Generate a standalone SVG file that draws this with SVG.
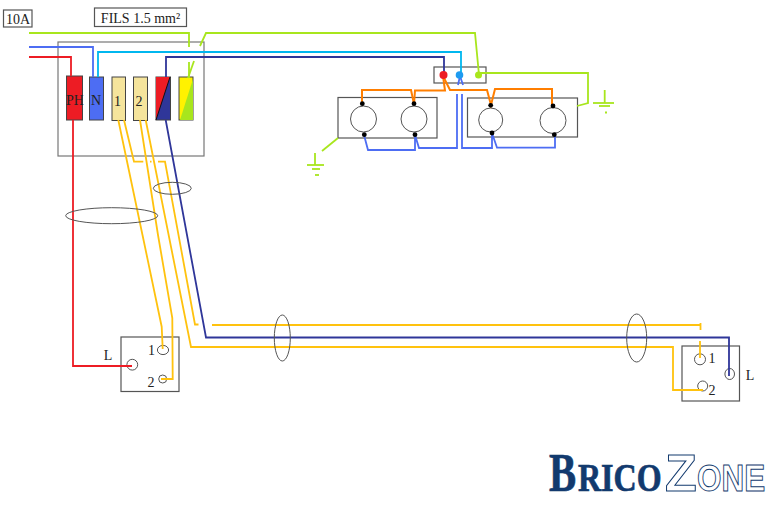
<svg xmlns="http://www.w3.org/2000/svg" width="780" height="510" viewBox="0 0 780 510">
<style>
text{font-family:"Liberation Serif","Times New Roman",serif;fill:#222;font-size:14px}
.c{text-anchor:middle}
.box{fill:#fff;stroke:#555;stroke-width:1.2}
.ring{fill:none;stroke:#555;stroke-width:1}
.ell{fill:none;stroke:#555;stroke-width:1}
.term{stroke:#444;stroke-width:1}
path,polyline,line{fill:none;stroke-linejoin:miter}
.w{stroke-width:1.8}
.red{stroke:#ed1c24}.blue{stroke:#4d6df3}.dk{stroke:#2f3699}.cy{stroke:#00b7ef}.gr{stroke:#a8e61d}.or{stroke:#ff7e00;stroke-width:2}.ye{stroke:#ffc20e}
.dot{fill:#000}
text.solid{font-weight:700;fill:#123a6e;stroke:#123a6e;stroke-width:.7}
text.line{font-family:"Liberation Sans",Arial,sans-serif;font-weight:700;fill:#fff;stroke:#123a6e;stroke-width:1}
text.b{font-size:55px}
text.r{font-size:40px}
text.z{font-size:52px}
text.o{font-size:37px}
</style>
<rect width="780" height="510" fill="#fff"/>
<g id="label-10a"><rect class="box" x="3.5" y="10" width="28.5" height="17"/><text class="c" x="18" y="23.5">10A</text></g>
<g id="label-fils"><rect class="box" x="94.5" y="8" width="92" height="18.5"/><text class="c" x="140.5" y="23">FILS 1.5 mm²</text></g>
<g id="panel">
<rect x="58" y="42" width="146" height="114" fill="#fff" stroke="#777" stroke-width="1.2"/>
<rect class="term" x="66.5" y="76" width="16" height="44" fill="#ed1c24"/>
<rect class="term" x="89.5" y="77" width="14" height="43" fill="#4d6df3"/>
<rect class="term" x="112" y="77" width="13.5" height="43.5" fill="#f5e49c"/>
<rect class="term" x="133.5" y="77" width="14" height="43.5" fill="#f5e49c"/>
<rect class="term" x="156" y="77" width="14.5" height="43" fill="#2f3699"/>
<polygon points="156,77 170,77 156,120" fill="#ed1c24"/>
<line x1="170" y1="77" x2="156" y2="120" stroke="#111" stroke-width="1"/>
<rect class="term" x="179" y="77" width="14" height="43" fill="#fff200"/>
<polygon points="193,79 193,120 180,120" fill="#a8e61d"/>
<text class="c" x="75" y="105">PH</text>
<text class="c" x="96" y="105">N</text>
<text class="c" x="117.5" y="106">1</text>
<text class="c" x="139" y="106">2</text>
</g>
<g id="junction-box"><rect class="box" x="434" y="67" width="52" height="16"/></g>
<g id="lamps-left">
<rect class="box" x="338" y="97.5" width="99" height="40.5"/>
<circle class="ring" cx="363.5" cy="119" r="13"/><circle class="ring" cx="414" cy="119" r="13"/>
</g>
<g id="lamps-right">
<rect class="box" x="467.5" y="98" width="110" height="39"/>
<circle class="ring" cx="490.7" cy="120" r="12"/><circle class="ring" cx="553" cy="120.5" r="13"/>
</g>
<g id="switch-left">
<rect class="box" x="121" y="337" width="58" height="54.5"/>
<circle class="ring" cx="132.3" cy="364.7" r="5.4" stroke-width="1.2"/>
<ellipse class="ring" cx="163" cy="350" rx="5.6" ry="4.6"/>
<circle class="ring" cx="162.7" cy="379" r="4"/>
<text class="c" x="108" y="360">L</text><text class="c" x="151.5" y="355">1</text><text class="c" x="151" y="387">2</text>
</g>
<g id="switch-right">
<rect class="box" x="682" y="346" width="57.5" height="55"/>
<circle class="ring" cx="700" cy="359.3" r="5.5"/>
<ellipse class="ring" cx="729.7" cy="374" rx="4.8" ry="5.5"/>
<circle class="ring" cx="702.7" cy="386" r="5"/>
<text class="c" x="712" y="363">1</text><text class="c" x="712" y="395">2</text><text class="c" x="750" y="380">L</text>
</g>
<g id="connectors">
<polyline class="w gr" points="29,33 189,33 189,47"/>
<polyline class="w gr" points="200,46 206,33 475,33 479,75"/>
<polyline class="w gr" points="189,62 189,78"/>
<polyline class="w gr" points="194,61 188,78"/>
<polyline class="w blue" points="29,47 93,47 93,77"/>
<polyline class="w cy" points="98,77 98,52 461,52 461,75"/>
<polyline class="w dk" points="166,77 166,57 444,57 444,75"/>
<polyline class="w red" points="29,57 71,57 71,76"/>
<polyline class="w red" points="73,120 73,366 132,366"/>
<polyline class="w gr" points="478,73 588,73 588,103 577,106"/>
<polyline class="w gr" points="338,138 322,151"/>
<line class="w gr" x1="315" y1="153" x2="315" y2="165"/>
<line class="w gr" x1="307" y1="165" x2="324" y2="165"/>
<line class="w gr" x1="312" y1="169" x2="320" y2="169"/>
<line class="w gr" x1="315" y1="175" x2="319" y2="175"/>
<line class="w gr" x1="604.7" y1="90" x2="604.7" y2="103"/>
<line class="w gr" x1="593" y1="103" x2="614" y2="103"/>
<line class="w gr" x1="599" y1="106" x2="610" y2="106"/>
<line class="w gr" x1="605" y1="112.5" x2="607" y2="112.5"/>
<polyline class="or" points="362,104 362,90 411,90 414,104"/>
<polyline class="or" points="414,104 415,90.5 445,90.5 443,76"/>
<polyline class="or" points="443,76 450,90 487,90 491,105 495,89 552,89 552,106"/>
<polyline class="w blue" points="364,135 368,150 415,150 415,135 419,148 457,148 457,94"/>
<polyline class="w blue" points="462,94 462,148 492,148 492,133 497,147.7 555,147.7 555,135"/>
<polyline class="w blue" points="460,76 458,85"/>
<polyline class="w blue" points="460,76 463,85"/>
<polyline class="w ye" points="118.3,120 142.5,235 161.7,326.7 162.7,349"/>
<polyline class="w ye" points="124,120 134,161.7 143.3,161.7"/>
<line class="w ye" x1="150" y1="161.7" x2="151.5" y2="161.7"/>
<polyline class="w ye" points="158,161.7 165,161.7 195,324.5 198.5,324.5"/>
<polyline class="w ye" points="140,120 158,235 172.3,318 172.7,379 161,379"/>
<polyline class="w ye" points="145.7,120 191,347 673,347 673,390 703,390"/>
<polyline class="w ye" points="212,325 700,325"/>
<line class="w ye" x1="700.5" y1="323" x2="700.5" y2="330"/>
<line class="w ye" x1="700" y1="341" x2="700" y2="358"/>
<polyline class="w dk" points="165.7,120 206,337.5 729,337.5 729,376"/>
<ellipse class="ell" cx="111.7" cy="215.7" rx="46" ry="8"/>
<ellipse class="ell" cx="172.3" cy="188.3" rx="19" ry="6"/>
<ellipse class="ell" cx="282.3" cy="338" rx="8" ry="23"/>
<ellipse class="ell" cx="636.7" cy="338" rx="10" ry="24"/>
<circle cx="443.5" cy="75" r="4" fill="#ed1c24"/>
<circle cx="459.5" cy="75" r="3.8" fill="#1e9bf0"/>
<circle cx="478.5" cy="75" r="3.5" fill="#a8e61d"/>
<circle class="dot" cx="362.3" cy="103.7" r="2.4"/><circle class="dot" cx="414" cy="103.7" r="2.4"/>
<circle class="dot" cx="364.3" cy="134.7" r="2.4"/><circle class="dot" cx="415" cy="134.7" r="2.4"/>
<circle class="dot" cx="490.7" cy="105.3" r="2.4"/><circle class="dot" cx="553" cy="106" r="2.4"/>
<circle class="dot" cx="492" cy="133" r="2.4"/><circle class="dot" cx="554.3" cy="134.7" r="2.4"/>
</g>
<g id="logo">
<text class="solid b" transform="translate(549 491) scale(.74 1)">B</text>
<text class="solid r" transform="translate(578 491) scale(.8 1)">RICO</text>
<text class="line z" transform="translate(665 491)">Z</text>
<text class="line o" transform="translate(697 491) scale(.85 1)">ONE</text>
</g>
</svg>
